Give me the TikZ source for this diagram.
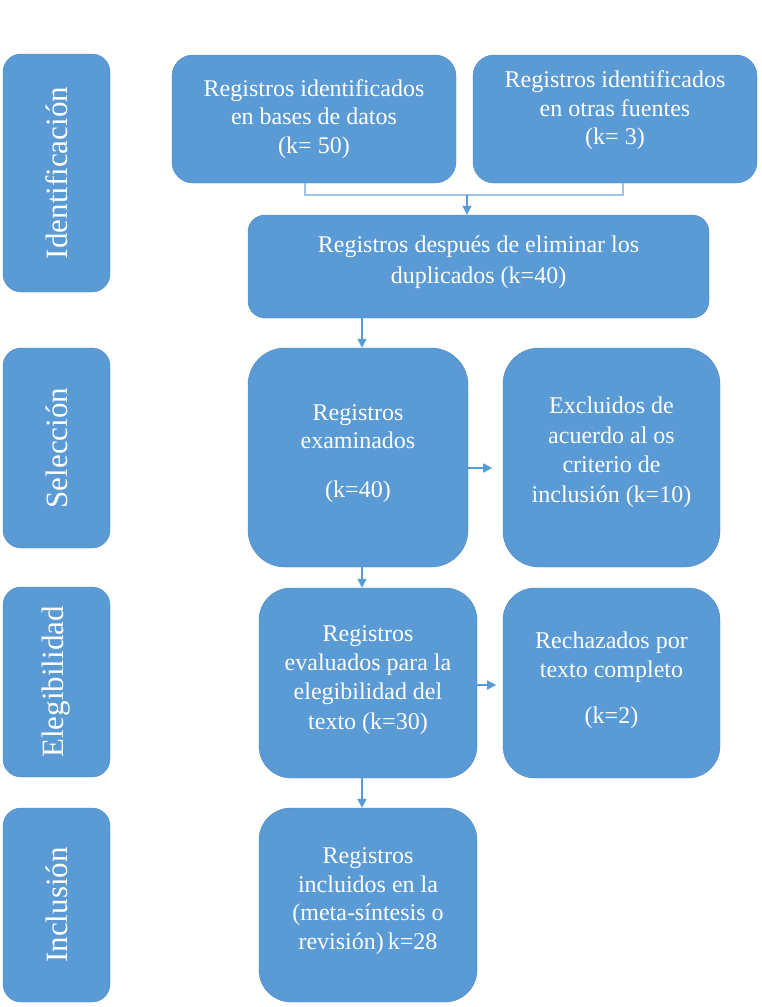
\documentclass[tikz,border=0pt]{standalone}
\usepackage{fontspec}
\setmainfont{Liberation Serif}
\usetikzlibrary{arrows.meta,calc}

\definecolor{boxblue}{HTML}{5B9BD5}
\definecolor{boxedge}{HTML}{4A86C0}
\definecolor{linkblue}{HTML}{9DC3E6}
% texto subido dentro de la caja
\newcommand{\liftlines}[2]{\raisebox{#1}[0pt][0pt]{\begin{tabular}{@{}c@{}}#2\end{tabular}}}

\begin{document}
\begin{tikzpicture}[x=1pt,y=-1pt]
\tikzset{
  stepbox/.style={rectangle,rounded corners=#1,draw=boxedge,fill=boxblue,thin,
    text=white,align=center,inner sep=2pt,font=\fontsize{24}{28.5}\selectfont},
  stepbox/.default=20pt,
  phasebox/.style={rectangle,rounded corners=18pt,draw=boxedge,fill=boxblue,thin,
    text=white,minimum width=107pt,font=\fontsize{31}{36}\selectfont},
  flow/.style={-{Triangle[length=9pt,width=9pt]},boxblue,line width=1.7pt},
  mergeline/.style={linkblue,line width=1.6pt}
}
\useasboundingbox (0,0) rectangle (762,1007);
% fases
\node[phasebox,minimum height=238pt] (p_ident) at (56.5,173) {};
\node[rotate=90,text=white,font=\fontsize{31}{36}\selectfont] (t_ident) at (p_ident) {Identificación};
\node[phasebox,minimum height=200pt] (p_selec) at (56.5,448) {};
\node[rotate=90,text=white,font=\fontsize{31}{36}\selectfont] (t_selec) at (p_selec) {Selección};
\node[phasebox,minimum height=190pt] (p_eleg) at (56.5,682) {};
\node[rotate=90,text=white,font=\fontsize{31}{36}\selectfont] (t_eleg) at (p_eleg) {Elegibilidad};
\node[phasebox,minimum height=194pt] (p_incl) at (56.5,905) {};
\node[rotate=90,text=white,font=\fontsize{31}{36}\selectfont] (t_incl) at (p_incl) {Inclusión};
% registros
\node[stepbox=21pt,minimum width=284pt,minimum height=128pt] (n_bases) at (314,119)
  {Registros identificados\\en bases de datos\\(k= 50)};
\node[stepbox=21pt,minimum width=284pt,minimum height=128pt] (n_otras) at (615,119)
  {\liftlines{2pt}{Registros identificados\\en otras fuentes\\(k= 3)}};
\node[stepbox=17pt,minimum width=461pt,minimum height=103pt] (n_dupl) at (478.5,266.5)
  {\liftlines{-2pt}{Registros después de eliminar los\\[3pt]duplicados (k=40)}};
\node[stepbox=37pt,minimum width=220pt,minimum height=219pt] (n_exam) at (358,457.5)
  {\liftlines{-2pt}{Registros\\examinados\\[20pt](k=40)}};
\node[stepbox=36pt,minimum width=217pt,minimum height=219pt] (n_excl) at (611.5,457.5)
  {\liftlines{-1pt}{Excluidos de\\[1pt]acuerdo al os\\[1pt]criterio de\\[1pt]inclusión (k=10)}};
\node[stepbox=32pt,minimum width=218pt,minimum height=190pt] (n_eval) at (368,683)
  {\liftlines{-3pt}{Registros\\evaluados para la\\[1pt]elegibilidad del\\[1pt]texto (k=30)}};
\node[stepbox=32pt,minimum width=217pt,minimum height=190pt] (n_rech) at (611.5,683)
  {\liftlines{-4pt}{Rechazados por\\texto completo\\[18pt](k=2)}};
\node[stepbox=32pt,minimum width=218pt,minimum height=194pt] (n_incl) at (368,905)
  {\liftlines{-2pt}{Registros\\incluidos en la\\(meta-síntesis o\\revisión)\,k=28}};
% conectores
\coordinate (c_join) at (467,195);
\coordinate (c_down) at ($(n_exam.north)+(4,0)$);
\draw[mergeline] ([xshift=-9pt]n_bases.south) |- (c_join);
\draw[mergeline] ([xshift=8pt]n_otras.south) |- (c_join);
\draw[flow] (c_join) -- (c_join |- n_dupl.north);
\draw[flow] (c_down |- n_dupl.south) -- (c_down |- n_exam.north);
\draw[flow] (c_down |- n_exam.south) -- (c_down |- n_eval.north);
\draw[flow] (c_down |- n_eval.south) -- (c_down |- n_incl.north);
\draw[flow] (n_exam.east |- 0,468) -- ++(24,0);
\draw[flow] (n_eval.east |- 0,685) -- ++(19,0);
\end{tikzpicture}
\end{document}
